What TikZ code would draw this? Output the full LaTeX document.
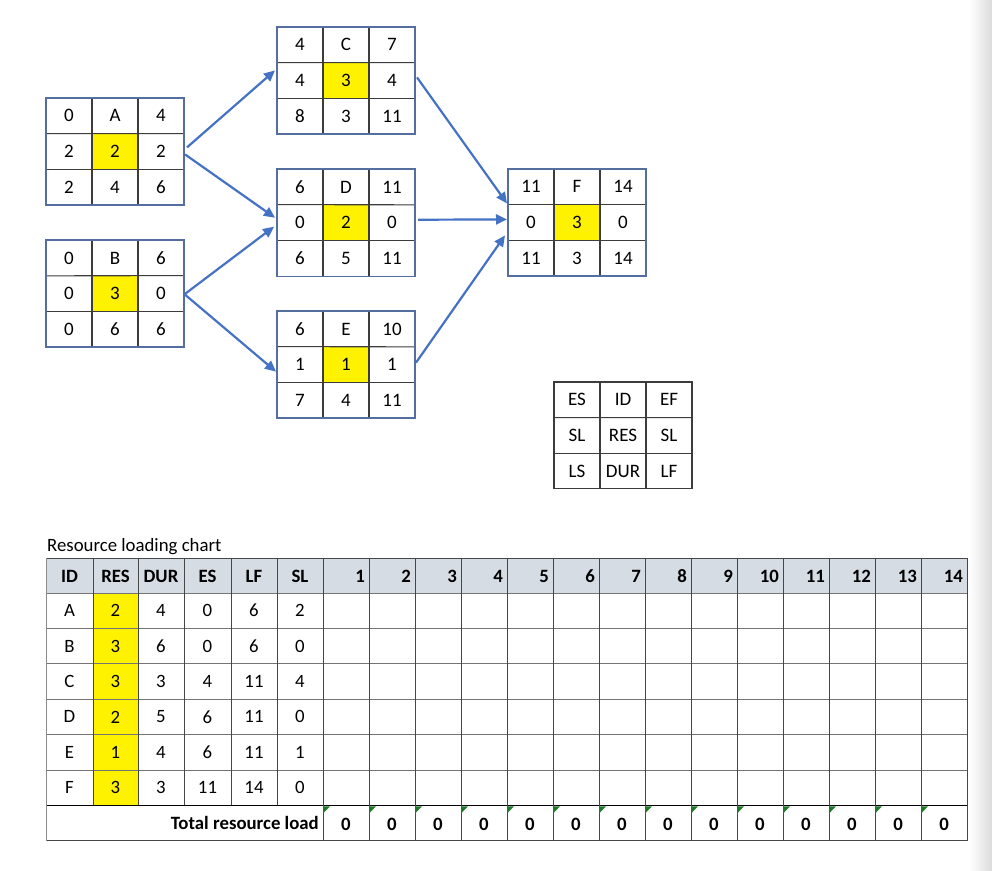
\documentclass[tikz,border=0pt]{standalone}
\usepackage{fontspec}
\setmainfont{Carlito}
\usetikzlibrary{matrix,calc,arrows.meta}
\definecolor{boxblue}{RGB}{84,110,160}
\definecolor{arrblue}{RGB}{68,114,196}
\definecolor{hdrfill}{RGB}{214,220,228}
\definecolor{gridc}{RGB}{60,60,60}
\definecolor{tgrid}{RGB}{70,70,70}
\definecolor{xlgreen}{RGB}{30,120,40}
\tikzset{
 cell/.style={minimum width=46pt, minimum height=35.6pt, inner sep=0pt, outer sep=0pt, font=\fontsize{19}{22}\selectfont},
 hl/.style={fill=yellow},
 actm/.style={matrix of nodes, nodes={cell}, row sep=0pt, column sep=0pt, anchor=north west, inner sep=0pt, outer sep=0pt},
 inner/.style={draw=gridc, line width=1.1pt},
 outer/.style={draw=boxblue, line width=1.8pt},
 legout/.style={draw=gridc, line width=1.1pt},
 arr/.style={draw=arrblue, line width=2.2pt, -{Triangle[length=11pt,width=10pt]}},
 ttxt/.style={font=\fontsize{18.8}{22}\selectfont, inner sep=0pt},
 thdr/.style={font=\fontsize{18.8}{22}\selectfont\bfseries, inner sep=0pt},
}
\begin{document}
\begin{tikzpicture}[x=1pt,y=-1pt]
\useasboundingbox (0,0) rectangle (992,870);
\fill[white] (0,0) rectangle (992,870);
\shade[left color=white, right color=black!14] (969,0) rectangle (992,870);

% ---- activity boxes ----
\matrix (A) at (46,98) [actm] { 0 & A & 4\\ 2 & |[hl]| 2 & 2\\ 2 & 4 & 6\\ };
\matrix (B) at (46,240) [actm] { 0 & B & 6\\ 0 & |[hl]| 3 & 0\\ 0 & 6 & 6\\ };
\matrix (C) at (277,27) [actm] { 4 & C & 7\\ 4 & |[hl]| 3 & 4\\ 8 & 3 & 11\\ };
\matrix (D) at (277,169) [actm] { 6 & D & 11\\ 0 & |[hl]| 2 & 0\\ 6 & 5 & 11\\ };
\matrix (E) at (277,311) [actm] { 6 & E & 10\\ 1 & |[hl]| 1 & 1\\ 7 & 4 & 11\\ };
\matrix (F) at (508,169) [actm] { 11 & F & 14\\ 0 & |[hl]| 3 & 0\\ 11 & 3 & 14\\ };
\matrix (L) at (554,382) [actm] { ES & ID & EF\\ SL & RES & SL\\ LS & DUR & LF\\ };
\foreach \m in {A,B,C,D,E,F,L}{
  \draw[inner] (\m-1-1.north east) -- (\m-3-1.south east);
  \draw[inner] (\m-1-2.north east) -- (\m-3-2.south east);
  \draw[inner] (\m-1-1.south west) -- (\m-1-3.south east);
  \draw[inner] (\m-2-1.south west) -- (\m-2-3.south east);}
\foreach \m in {A,B,C,D,E,F}{\draw[outer] (\m.north west) rectangle (\m.south east);}
\draw[legout] (L.north west) rectangle (L.south east);

% ---- arrows ----
\draw[arr] ($(A-2-3.east)+(3,-4)$) -- ($(C-2-1.west)+(-2,-10)$);
\draw[arr] ($(A-2-3.east)+(1,3)$) -- ($(D-2-1.west)+(-2,-5)$);
\draw[arr] ($(B-2-3.east)+(0,1)$) -- ($(D-2-1.west)+(-3,4)$);
\draw[arr] ($(B-2-3.east)+(1,1)$) -- ($(E-2-1.west)+(-1,7)$);
\draw[arr] ($(C-2-3.east)+(2,-3)$) -- ($(F-2-1.west)+(-1,-19)$);
\draw[arr] ($(D-2-3.east)+(3,-3)$) -- ($(F-2-1.west)+(-1,-3)$);
\draw[arr] ($(E-2-3.east)+(1,-2)$) -- ($(F-2-1.west)+(-3,13)$);

% ---- resource loading chart ----
\node[ttxt, anchor=west] (title) at (47,547) {Resource loading chart};
\fill[hdrfill] (46,558) rectangle (967,593);
\fill[yellow] (93,593) rectangle (138,805.4);
% horizontal lines
\foreach \yy in {593,628.4,663.8,699.2,734.6,770}{\draw[tgrid!75, line width=0.9pt] (46,\yy) -- (967,\yy);}
\draw[tgrid, line width=1pt] (46,558) -- (967,558);
\draw[black, line width=1.8pt] (46,805.4) -- (967,805.4);
\draw[tgrid, line width=1pt] (46,840.8) -- (967,840.8);
% vertical lines
\draw[black!45, line width=1pt] (46,558) -- (46,840.8);
\foreach \xx in {93,138,184,231,277}{\draw[tgrid, line width=0.9pt] (\xx,558) -- (\xx,805.4);}
\foreach \k in {0,...,14}{\draw[tgrid, line width=0.9pt] ({323+46*\k},558) -- ({323+46*\k},840.8);}
% header
\foreach \lab/\xc [count=\c] in {ID/69.5,RES/115.5,DUR/161,ES/207.5,LF/254,SL/300}{
  \node[thdr] (h\c) at (\xc,576) {\lab};}
\foreach \d in {1,...,14}{\node[thdr, anchor=east] (hd\d) at ({323+46*\d-4},576) {\d};}
% data rows
\foreach \id/\res/\dur/\es/\lf/\sl [count=\r] in {A/2/4/0/6/2,B/3/6/0/6/0,C/3/3/4/11/4,D/2/5/6/11/0,E/1/4/6/11/1,F/3/3/11/14/0}{
  \pgfmathsetmacro{\yc}{593+35.4*(\r-0.5)}
  \node[ttxt] (r\r c1) at (69.5,\yc) {\id};
  \node[ttxt] (r\r c2) at (115.5,\yc) {\res};
  \node[ttxt] (r\r c3) at (161,\yc) {\dur};
  \node[ttxt] (r\r c4) at (207.5,\yc) {\es};
  \node[ttxt] (r\r c5) at (254,\yc) {\lf};
  \node[ttxt] (r\r c6) at (300,\yc) {\sl};
}
% total row
\node[thdr, anchor=east] (tot) at (319,823) {Total resource load};
\foreach \k in {0,...,13}{
  \fill[xlgreen] ({323+46*\k},806.4) -- ({330+46*\k},806.4) -- ({323+46*\k},813.5) -- cycle;
  \node[thdr] (z\k) at ({346+46*\k},824) {0};}
\end{tikzpicture}
\end{document}
